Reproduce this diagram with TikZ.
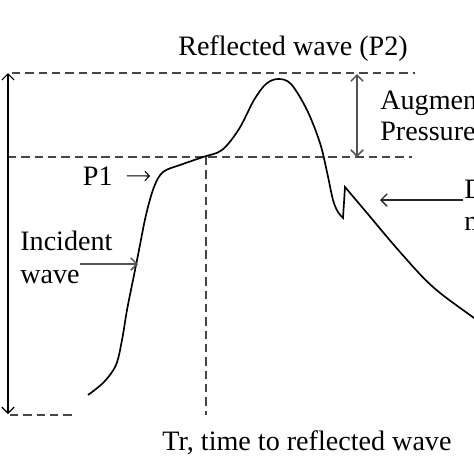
\documentclass[tikz,border=0pt]{standalone}
\usepackage{fontspec}
\setmainfont{Liberation Serif}
\usetikzlibrary{arrows.meta}

\begin{document}
\begin{tikzpicture}[x=0.02cm, y=-0.02cm,
	>={Straight Barb[length=3.5pt,width=7pt]},
	lbl/.style={inner sep=0pt, font=\fontsize{16}{18}\selectfont},
	dashline/.style={gray!55!black, line width=1.3pt, dash pattern=on 4.8pt off 2.8pt},
	wave/.style={line width=0.95pt},
	]
	\useasboundingbox (0,0) rectangle (474,474);
	\clip (0,0) rectangle (474,474);

	% Dashed levels
	\coordinate (topL) at (12,73);
	\coordinate (topR) at (415,73);
	\coordinate (midL) at (8,157);
	\coordinate (midR) at (412,157);
	\coordinate (botL) at (10,415);
	\coordinate (botR) at (76,415);
	\coordinate (trTop) at (206,157);
	\coordinate (trBot) at (206,415);
	\draw[dashline] (topL) -- (topR);
	\draw[dashline] (midL) -- (midR);
	\draw[dashline] (botL) -- (botR);
	\draw[dashline] (trTop) -- (trBot);

	% Pulse pressure range
	\coordinate (pTop) at (8,73);
	\coordinate (pBot) at (8,414);
	\draw[<->, line width=0.7pt] (pTop) -- (pBot);

	% Augmentation range
	\coordinate (aTop) at (357,74);
	\coordinate (aBot) at (357,157);
	\draw[<->, gray!65!black, line width=0.9pt] (aTop) -- (aBot);

	% Draw the wave
	\draw[wave] plot[smooth, tension=0.55] coordinates {(88,395) (104,382) (116,365) (122,340) (127,310) (133,280) (139,250) (146,215) (154,187) (163,172) (180,165) (203,157) (222,150) (239,129) (254,100) (266,84) (278,79) (291,84) (307,110) (320,143) (327,172) (333,200) (338,212) (343,218)}
		-- plot[smooth, tension=0.6] coordinates {(345,187) (367,213) (400,252) (433,287) (474,318) (490,330)};

	% Label the parts
	\node[lbl, anchor=base] (refl) at (293,55) {Reflected wave (P2)};
	\node[lbl, anchor=base] (tr) at (307,450) {Tr, time to reflected wave};
	\node[lbl, anchor=base west] (aug) at (380,109) {Augmentation};
	\node[lbl, anchor=base west] (augb) at (380,140) {Pressure};
	\node[lbl, anchor=base west] (dic) at (464,198) {Dicrotic};
	\node[lbl, anchor=base west] (dicb) at (464,230) {notch};
	\node[lbl, anchor=base west] (inc) at (20,250) {Incident};
	\node[lbl, anchor=base west] (incb) at (20,283) {wave};
	\node[lbl, anchor=base east] (p1) at (113,185) {P1};

	% Pointers
	\coordinate (incFrom) at (80,264);
	\coordinate (incTip) at (138,264);
	\draw[->, gray!65!black, line width=0.9pt] (incFrom) -- (incTip);
	\coordinate (dicFrom) at (463,200);
	\coordinate (dicTip) at (380,200);
	\draw[->, gray!30!black, line width=0.8pt] (dicFrom) -- (dicTip);
	\coordinate (p1Tip) at (150,176);
	\draw[-{Straight Barb[length=2.5pt,width=5.5pt]}, line width=0.6pt, shorten <=7.9pt] (p1.east) -- (p1Tip);
\end{tikzpicture}
\end{document}
